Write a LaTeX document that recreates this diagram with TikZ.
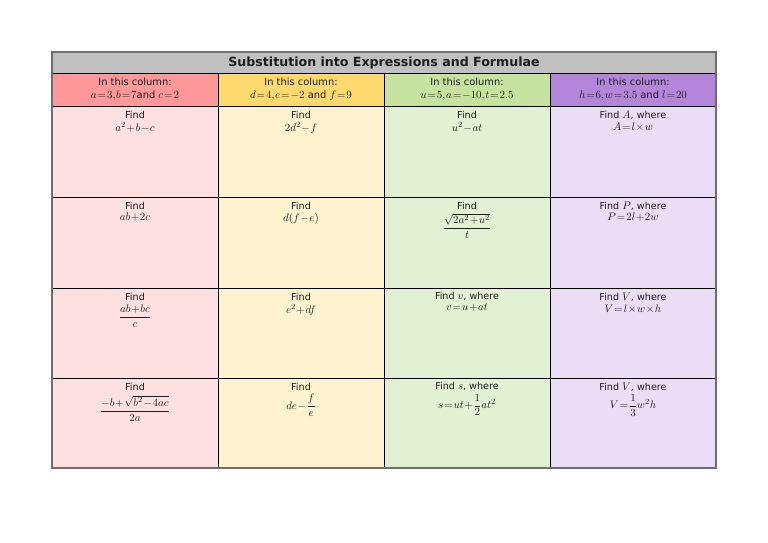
\documentclass[tikz,border=0pt]{standalone}
\usepackage{amsmath}
\usepackage[no-math]{fontspec}
\setmainfont{DejaVu Sans}
\definecolor{titlebg}{RGB}{192,192,192}
\definecolor{hA}{RGB}{255,153,153}
\definecolor{hB}{RGB}{255,217,110}
\definecolor{hC}{RGB}{197,226,158}
\definecolor{hD}{RGB}{180,134,217}
\definecolor{cA}{RGB}{255,224,224}
\definecolor{cB}{RGB}{255,243,207}
\definecolor{cC}{RGB}{226,241,210}
\definecolor{cD}{RGB}{233,222,245}
\definecolor{outer}{RGB}{110,110,110}
\definecolor{ink}{RGB}{30,30,30}
\newcommand{\tightmath}{\thickmuskip=1.5mu\medmuskip=1mu\thinmuskip=1mu}
\newcommand{\mth}[1]{{\fontsize{10.8}{13}\selectfont\tightmath$#1$}}
\tikzset{
  cellbox/.style={draw=black, line width=0.8pt},
  findtext/.style={anchor=north, align=center, text=ink, font=\fontsize{9.6}{12}\selectfont\tightmath, inner sep=0.5pt},
  formtext/.style={anchor=north, align=center, text=ink, font=\fontsize{10.8}{13}\selectfont\tightmath, inner sep=0.5pt},
  headtext/.style={anchor=center, align=center, text=ink, font=\fontsize{9.9}{13}\selectfont\tightmath, inner sep=0pt},
  titletext/.style={anchor=center, text=ink, font=\fontsize{12.6}{14}\selectfont\bfseries, inner sep=0pt}
}
\begin{document}
\begin{tikzpicture}[x=1pt,y=-1pt]
\useasboundingbox (0,0) rectangle (768,543);
% title
\fill[titlebg] (52,52) rectangle (716,73);
% headers
\fill[hA] (52,73) rectangle (218,106);
\fill[hB] (218,73) rectangle (384,106);
\fill[hC] (384,73) rectangle (550,106);
\fill[hD] (550,73) rectangle (716,106);
% body
\fill[cA] (52,106) rectangle (218,468);
\fill[cB] (218,106) rectangle (384,468);
\fill[cC] (384,106) rectangle (550,468);
\fill[cD] (550,106) rectangle (716,468);
% grid lines
\foreach \yy in {73,106,197,288,378} \draw[cellbox] (52,\yy) -- (716,\yy);
\foreach \xx in {218,384,550} \draw[cellbox] (\xx,73) -- (\xx,468);
\draw[draw=outer, line width=1.3pt] (52,52) rectangle (716,468);
% title text
\node[titletext] (title) at (384,63) {Substitution into Expressions and Formulae};
% header text
\node[headtext] (h1) at (135,89.5) {In this column:\\\mth{a=3, b=7}and \mth{c=2}};
\node[headtext] (h2) at (301,89.5) {In this column:\\\mth{d=4, e=-2} and \mth{f=9}};
\node[headtext] (h3) at (467,89.5) {In this column:\\\mth{u=5, a=-10, t=2.5}};
\node[headtext] (h4) at (633,89.5) {In this column:\\\mth{h=6, w=3.5} and \mth{l=20}};
% row 1
\node[findtext] (r1a) at (135,110.5) {Find};
\node[findtext] (r1b) at (301,110.5) {Find};
\node[findtext] (r1c) at (467,110.5) {Find};
\node[findtext] (r1d) at (633,110) {Find \mth{A}, where};
\node[formtext] (r1af) at ([yshift=-2pt]r1a.south) {$a^2+b-c$};
\node[formtext] (r1bf) at ([yshift=-2pt]r1b.south) {$2d^2-f$};
\node[formtext] (r1cf) at ([yshift=-2pt]r1c.south) {$u^2-at$};
\node[formtext] (r1df) at ([yshift=-2.5pt]r1d.south) {$A=l\times w$};
% row 2
\node[findtext] (r2a) at (135,201.5) {Find};
\node[findtext] (r2b) at (301,201.5) {Find};
\node[findtext] (r2c) at (467,201.5) {Find};
\node[findtext] (r2d) at (633,201) {Find \mth{P}, where};
\node[formtext] (r2af) at ([yshift=-2pt]r2a.south) {$ab+2c$};
\node[formtext] (r2bf) at ([yshift=-2pt]r2b.south) {$d(f-e)$};
\node[formtext] (r2cf) at ([yshift=-2.5pt]r2c.south) {$\dfrac{\sqrt{2a^2+u^2}}{t}$};
\node[formtext] (r2df) at ([yshift=-1.5pt]r2d.south) {$P=2l+2w$};
% row 3
\node[findtext] (r3a) at (135,292.5) {Find};
\node[findtext] (r3b) at (301,292.5) {Find};
\node[findtext] (r3c) at (467,292) {Find \mth{v}, where};
\node[findtext] (r3d) at (633,292) {Find \mth{V}, where};
\node[formtext] (r3af) at ([yshift=-2.5pt]r3a.south) {$\dfrac{ab+bc}{c}$};
\node[formtext] (r3bf) at ([yshift=-2pt]r3b.south) {$e^2+df$};
\node[formtext] (r3cf) at ([yshift=-1.5pt]r3c.south) {$v=u+at$};
\node[formtext] (r3df) at ([yshift=-2pt]r3d.south) {$V=l\times w\times h$};
% row 4
\node[findtext] (r4a) at (135,382.5) {Find};
\node[findtext] (r4b) at (301,382.5) {Find};
\node[findtext] (r4c) at (467,382) {Find \mth{s}, where};
\node[findtext] (r4d) at (633,382) {Find \mth{V}, where};
\node[formtext] (r4af) at ([yshift=-4pt]r4a.south) {$\dfrac{-b+\sqrt{b^2-4ac}}{2a}$};
\node[formtext] (r4bf) at ([yshift=-2pt]r4b.south) {$de-\dfrac{f}{e}$};
\node[formtext] (r4cf) at ([yshift=-1.5pt]r4c.south) {$s=ut+\dfrac{1}{2}at^2$};
\node[formtext] (r4df) at ([yshift=-1.5pt]r4d.south) {$V=\dfrac{1}{3}w^2h$};
\end{tikzpicture}
\end{document}
